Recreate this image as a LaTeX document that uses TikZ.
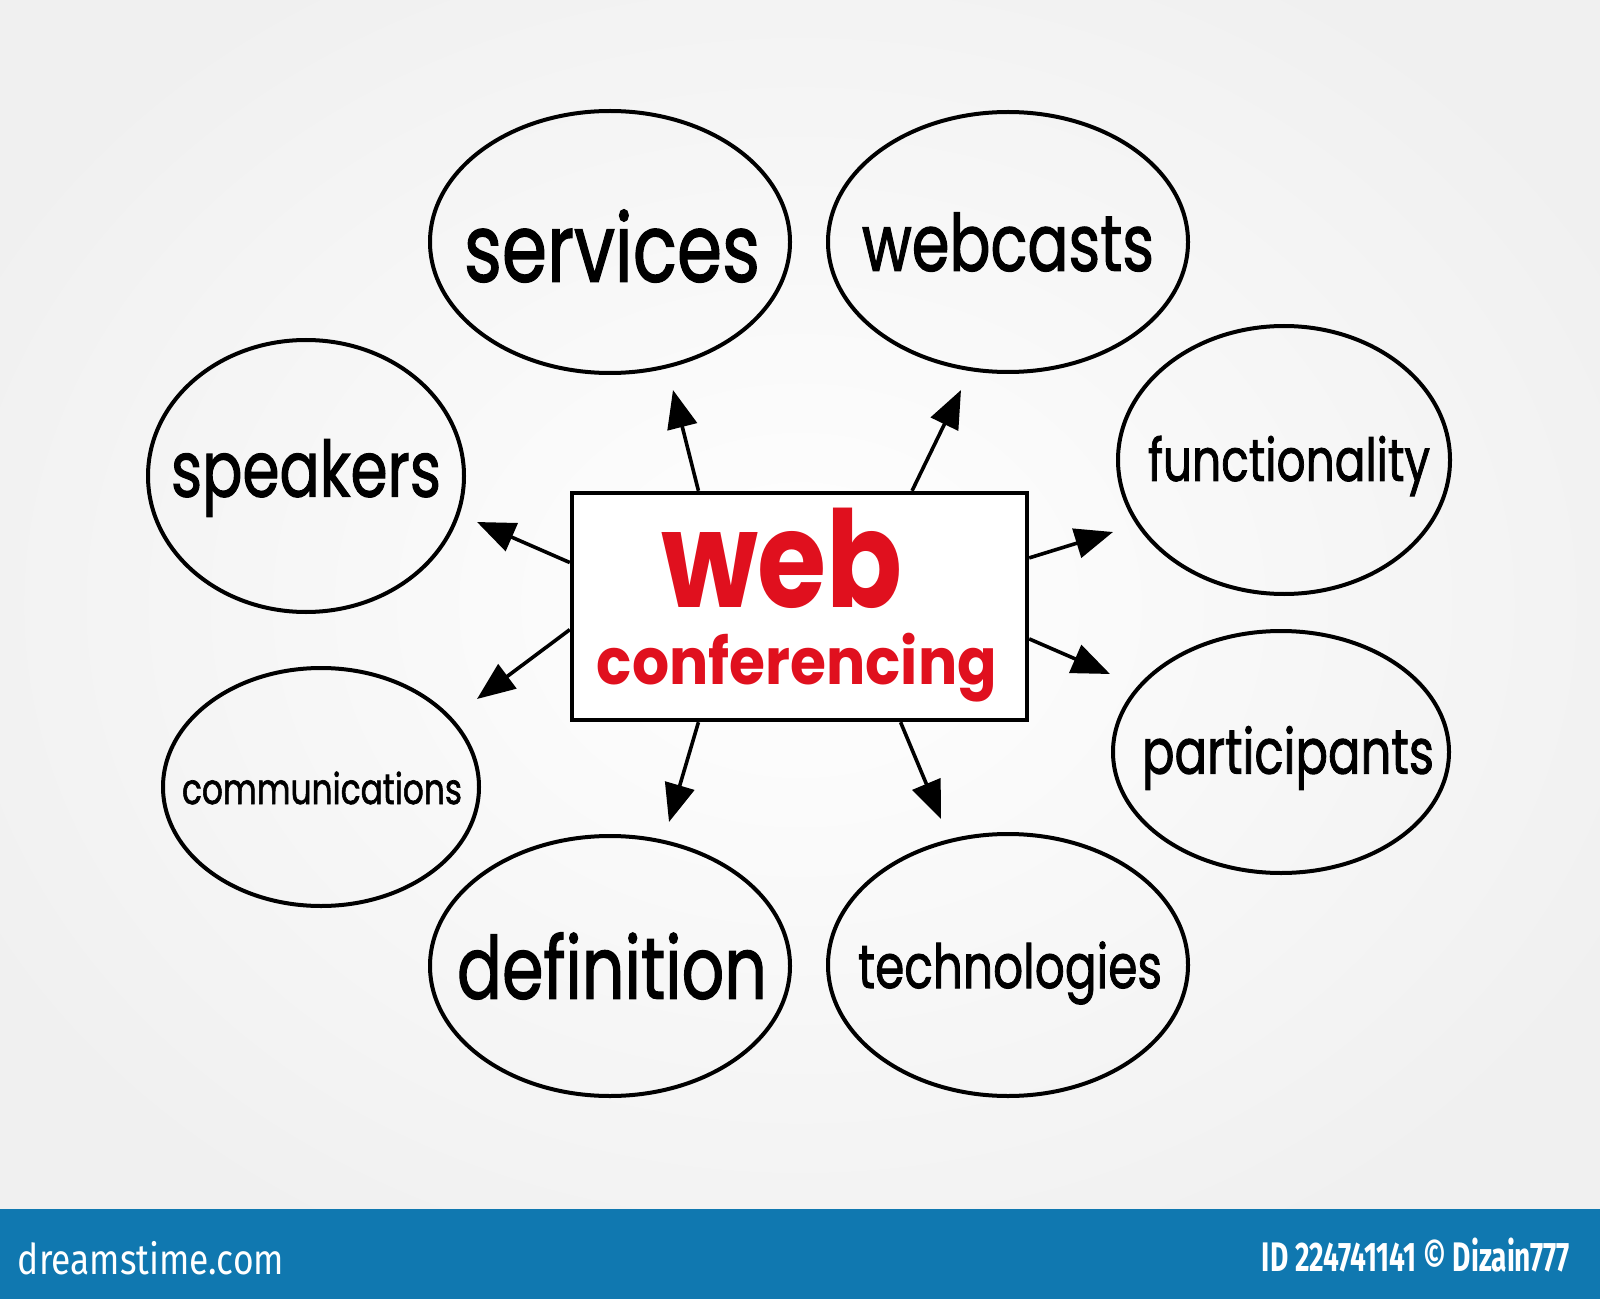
\documentclass[tikz,border=0pt]{standalone}
\usepackage{fontspec}
\setmainfont{Poppins}
\newfontfamily\handfont{Poppins}[FakeBold=1.6]
\newfontfamily\barfont{Fira Sans}
\usetikzlibrary{arrows.meta,calc,shapes.geometric}
\definecolor{wcred}{HTML}{E0101E}
\definecolor{barblue}{HTML}{1078B0}
\newcommand{\hand}[2]{\resizebox{#1pt}{!}{\scalebox{1}[1.3]{\handfont #2}}}
\newcommand{\handb}[3]{\resizebox{#1pt}{!}{\scalebox{1}[#2]{\bfseries #3}}}
\begin{document}
\begin{tikzpicture}[x=0.5pt,y=-0.5pt,
  bub/.style={draw, ellipse, line width=2pt, inner sep=0pt},
  lbl/.style={inner sep=0pt, text=black},
  conn/.style={line width=1.8pt, -{Triangle[length=19pt,width=15pt]}}]
\useasboundingbox (0,0) rectangle (1600,1299);
\fill[black!6] (0,0) rectangle (1600,1209);
\shade[inner color=white, outer color=black!6] (-150,-150) rectangle (1750,1360);
\fill[barblue] (0,1209) rectangle (1600,1299);
\node[lbl, text=white, anchor=center] (brand) at (151,1258) {\resizebox{133pt}{!}{\barfont\scalebox{1}[1.2]{dreamstime.com}}};
\node[lbl, text=white, anchor=center] (credit) at (1416,1255) {\resizebox{154pt}{!}{\barfont\bfseries\scalebox{0.85}[1.25]{ID 224741141 © Dizain777}}};
% bubbles
\node[bub, minimum width=180pt, minimum height=131pt] (services) at (610,242) {};
\node[bub, minimum width=180pt, minimum height=130pt] (webcasts) at (1008,242) {};
\node[bub, minimum width=166pt, minimum height=134pt] (functionality) at (1284,460) {};
\node[bub, minimum width=168pt, minimum height=121pt] (participants) at (1281,752) {};
\node[bub, minimum width=180pt, minimum height=131pt] (technologies) at (1008,965) {};
\node[bub, minimum width=180pt, minimum height=130pt] (definition) at (610,966) {};
\node[bub, minimum width=158pt, minimum height=119pt] (communications) at (321,787) {};
\node[bub, minimum width=158pt, minimum height=136pt] (speakers) at (306,476) {};
% labels
\node[lbl] (tservices) at (612,246) {\hand{148}{services}};
\node[lbl] (twebcasts) at (1008,242) {\hand{146}{webcasts}};
\node[lbl] (tfunctionality) at (1289,466) {\hand{141}{functionality}};
\node[lbl] (tparticipants) at (1288,758) {\hand{146}{participants}};
\node[lbl] (ttechnologies) at (1010,973) {\hand{152}{technologies}};
\node[lbl] (tdefinition) at (612,966) {\hand{155}{definition}};
\node[lbl] (tcommunications) at (322,788) {\hand{140}{communications}};
\node[lbl] (tspeakers) at (306,478) {\hand{135}{speakers}};
% central box
\node[draw, line width=2.2pt, fill=white, minimum width=227.5pt, minimum height=113.5pt, inner sep=0pt] (box) at (799.5,606.5) {};
\node[lbl, text=wcred] (tweb) at (782,558) {\handb{121}{1.2}{web}};
\node[lbl, text=wcred] (tconf) at (797,668) {\handb{200}{1.1}{conferencing}};
% arrow tips
\coordinate (aservices) at (673,390);
\coordinate (awebcasts) at (961,390);
\coordinate (aspeakers) at (477,522);
\coordinate (acomm) at (477,699);
\coordinate (afunc) at (1113,532);
\coordinate (apart) at (1110,674);
\coordinate (adef) at (669,822);
\coordinate (atech) at (941,819);
\draw[conn] ($(box.north west)!0.28!(box.north east)$) -- (aservices);
\draw[conn] ($(box.north west)!0.745!(box.north east)$) -- (awebcasts);
\draw[conn] ($(box.north west)!0.31!(box.south west)$) -- (aspeakers);
\draw[conn] ($(box.north west)!0.60!(box.south west)$) -- (acomm);
\draw[conn] ($(box.north east)!0.29!(box.south east)$) -- (afunc);
\draw[conn] ($(box.north east)!0.64!(box.south east)$) -- (apart);
\draw[conn] ($(box.south west)!0.28!(box.south east)$) -- (adef);
\draw[conn] ($(box.south west)!0.72!(box.south east)$) -- (atech);
\end{tikzpicture}
\end{document}
